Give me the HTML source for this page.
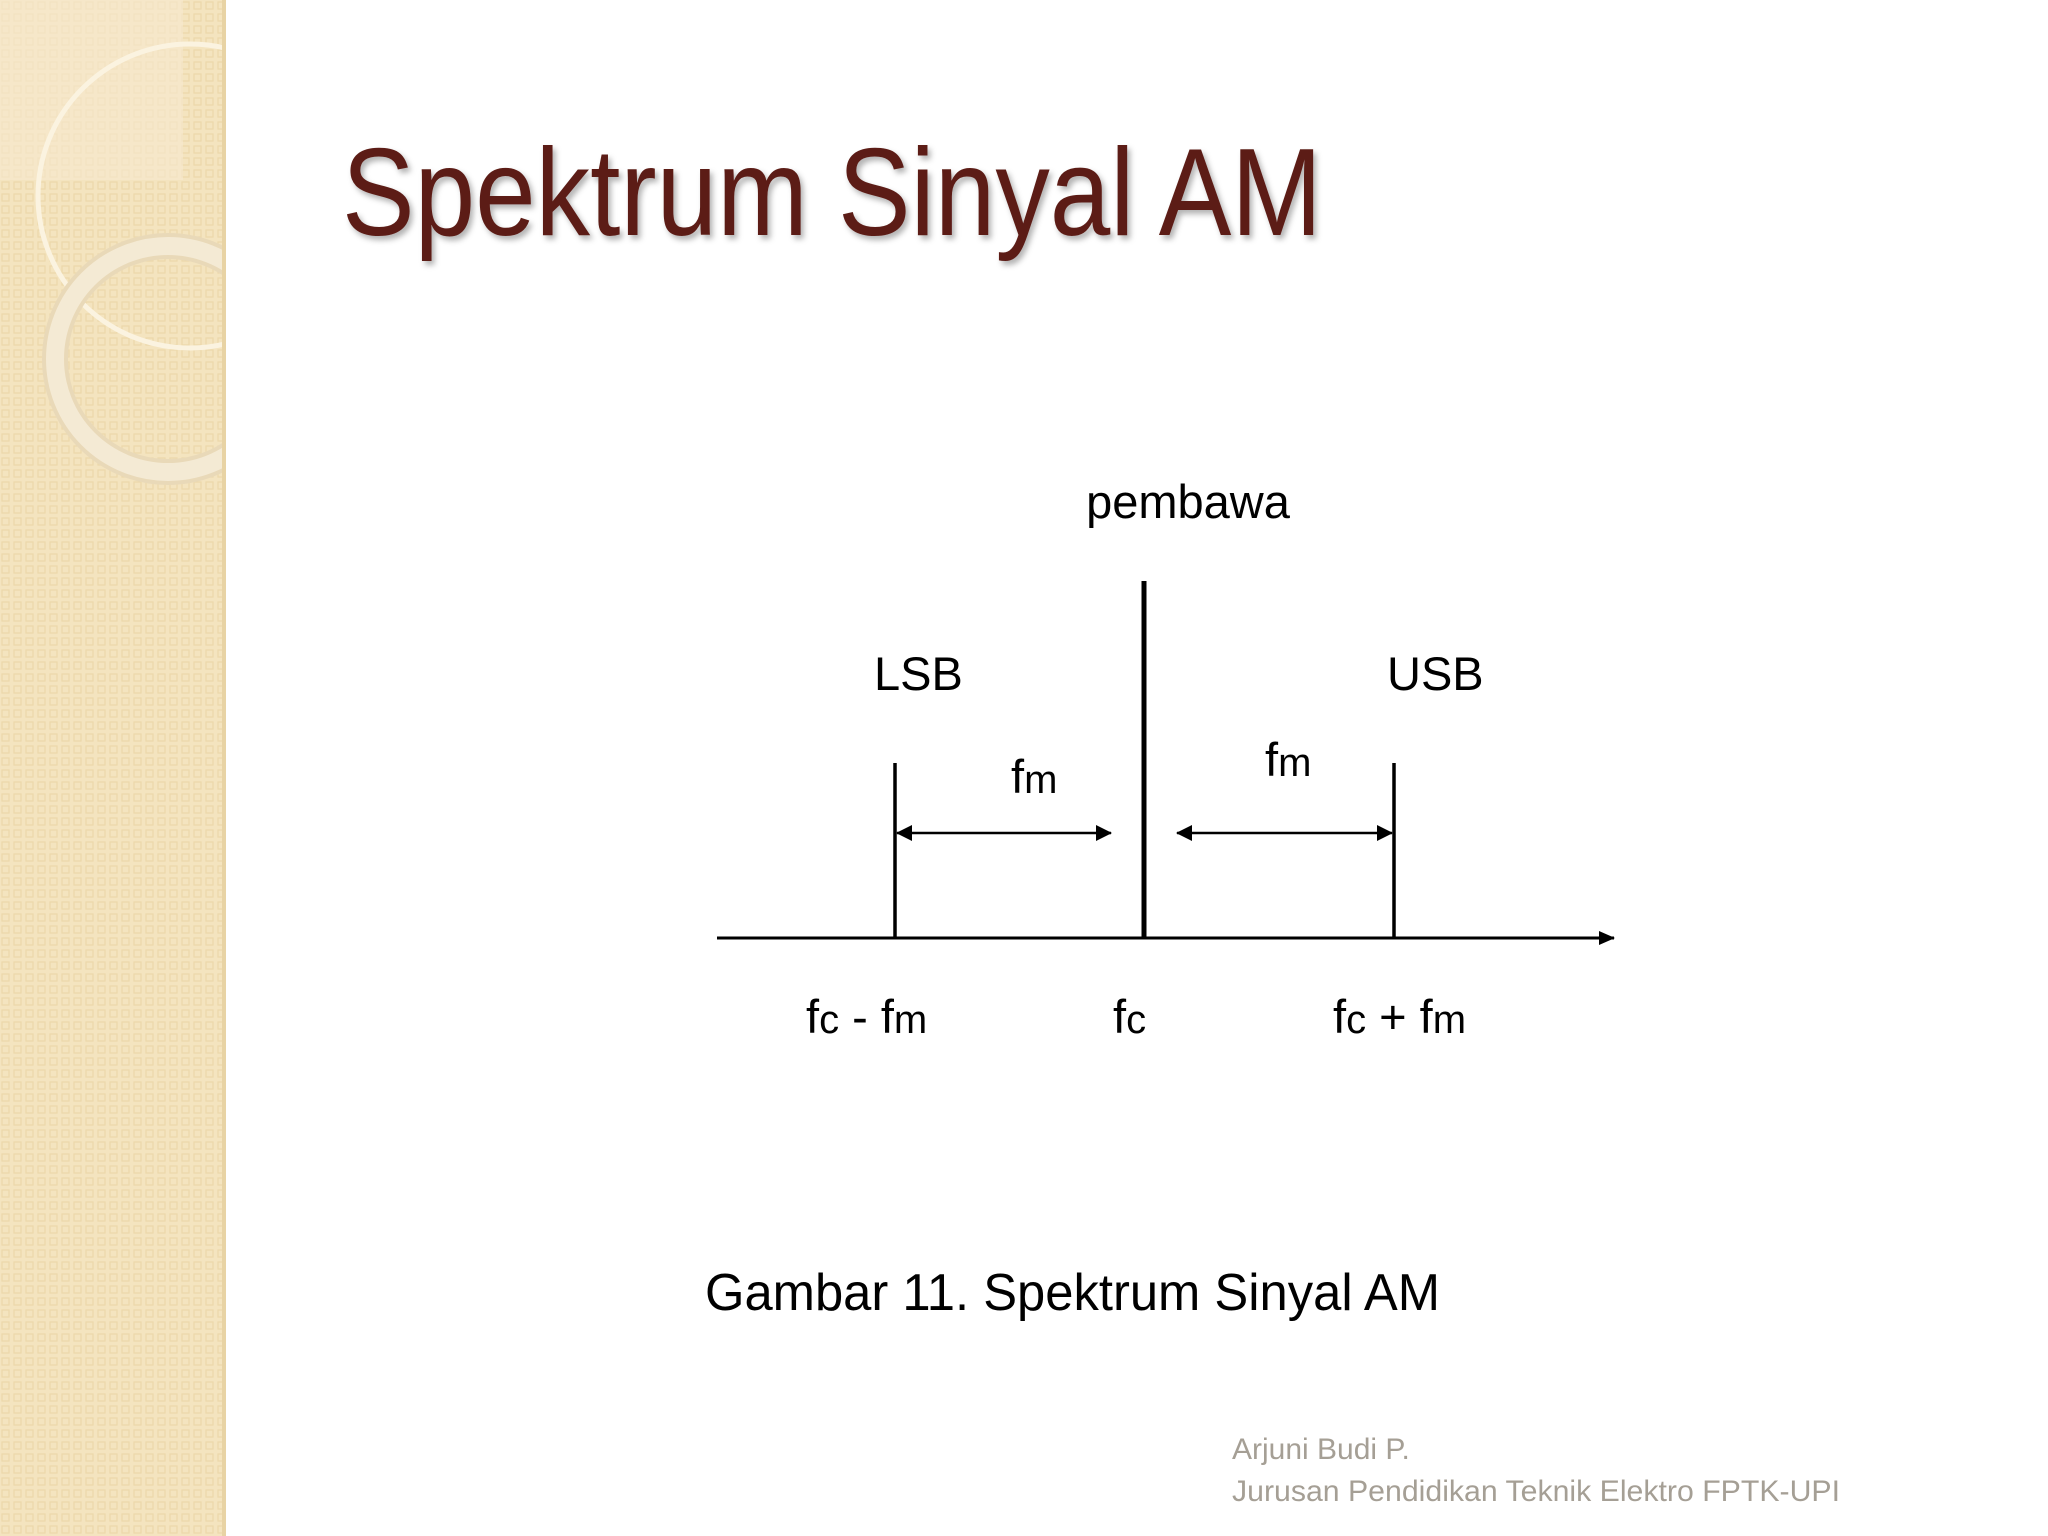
<!DOCTYPE html>
<html><head><meta charset="utf-8"><style>
html,body{margin:0;padding:0;background:#fff;}
svg{display:block}
</style></head><body>
<svg width="2048" height="1536" viewBox="0 0 2048 1536" xmlns="http://www.w3.org/2000/svg">
<defs>
<pattern id="pt" width="12" height="12" patternUnits="userSpaceOnUse">
<rect width="12" height="12" fill="#f4e4bf"/>
<rect x="2" y="2" width="7" height="7" fill="none" stroke="#ecd8aa" stroke-width="1.2"/>
</pattern>
<clipPath id="sb"><rect x="0" y="0" width="226" height="1536"/></clipPath>
<marker id="ah" markerWidth="16" markerHeight="14" refX="15" refY="7" orient="auto" markerUnits="userSpaceOnUse">
<path d="M0,0 L16,7 L0,14 z" fill="#000"/></marker>
<marker id="as" markerWidth="16" markerHeight="16" refX="15" refY="8" orient="auto-start-reverse" markerUnits="userSpaceOnUse">
<path d="M0,0 L16,8 L0,16 z" fill="#000"/></marker>
<filter id="sh"><feDropShadow dx="3" dy="4" stdDeviation="3" flood-color="#000" flood-opacity="0.3"/></filter>
</defs>
<rect x="0" y="0" width="226" height="1536" fill="url(#pt)"/>
<g clip-path="url(#sb)">
<rect x="0" y="0" width="183" height="180" fill="#f6ead0" opacity="0.6"/>
<circle cx="190" cy="196" r="152" fill="none" stroke="#fbf3e0" stroke-width="5"/>
<circle cx="168" cy="359" r="113" fill="none" stroke="#e9d9b8" stroke-width="26"/>
<circle cx="168" cy="359" r="113" fill="none" stroke="#f4ead4" stroke-width="18"/>
</g>
<rect x="222" y="0" width="4" height="1536" fill="#e8d3a4"/>
<text x="342" y="235" font-family="Liberation Sans, sans-serif" font-size="124" fill="#5c1f18" textLength="980" lengthAdjust="spacingAndGlyphs" filter="url(#sh)">Spektrum Sinyal AM</text>
<g stroke="#000" fill="none">
<line x1="717" y1="938" x2="1614" y2="938" stroke-width="3" marker-end="url(#ah)"/>
<line x1="1144" y1="581" x2="1144" y2="938" stroke-width="5"/>
<line x1="895" y1="763" x2="895" y2="938" stroke-width="3.5"/>
<line x1="1394" y1="763" x2="1394" y2="938" stroke-width="3.5"/>
<line x1="897" y1="833" x2="1111" y2="833" stroke-width="2.5" marker-start="url(#as)" marker-end="url(#as)"/>
<line x1="1177" y1="833" x2="1392" y2="833" stroke-width="2.5" marker-start="url(#as)" marker-end="url(#as)"/>
</g>
<g font-family="Liberation Sans, sans-serif" fill="#000" font-size="47">
<text x="1188" y="518" text-anchor="middle">pembawa</text>
<text x="874" y="690">LSB</text>
<text x="1387" y="690">USB</text>
<text x="1011" y="793">f<tspan font-size="40">m</tspan></text>
<text x="1265" y="776">f<tspan font-size="40">m</tspan></text>
<text x="806" y="1033">f<tspan font-size="40">c</tspan> - f<tspan font-size="40">m</tspan></text>
<text x="1113" y="1033">f<tspan font-size="40">c</tspan></text>
<text x="1333" y="1033">f<tspan font-size="40">c</tspan> + f<tspan font-size="40">m</tspan></text>
</g>
<text x="705" y="1310" font-family="Liberation Sans, sans-serif" font-size="52" fill="#000" textLength="735" lengthAdjust="spacingAndGlyphs">Gambar 11. Spektrum Sinyal AM</text>
<g font-family="Liberation Sans, sans-serif" font-size="30" fill="#a59f95">
<text x="1232" y="1459">Arjuni Budi P.</text>
<text x="1232" y="1501" textLength="608" lengthAdjust="spacingAndGlyphs">Jurusan Pendidikan Teknik Elektro FPTK-UPI</text>
</g>
</svg>
</body></html>
